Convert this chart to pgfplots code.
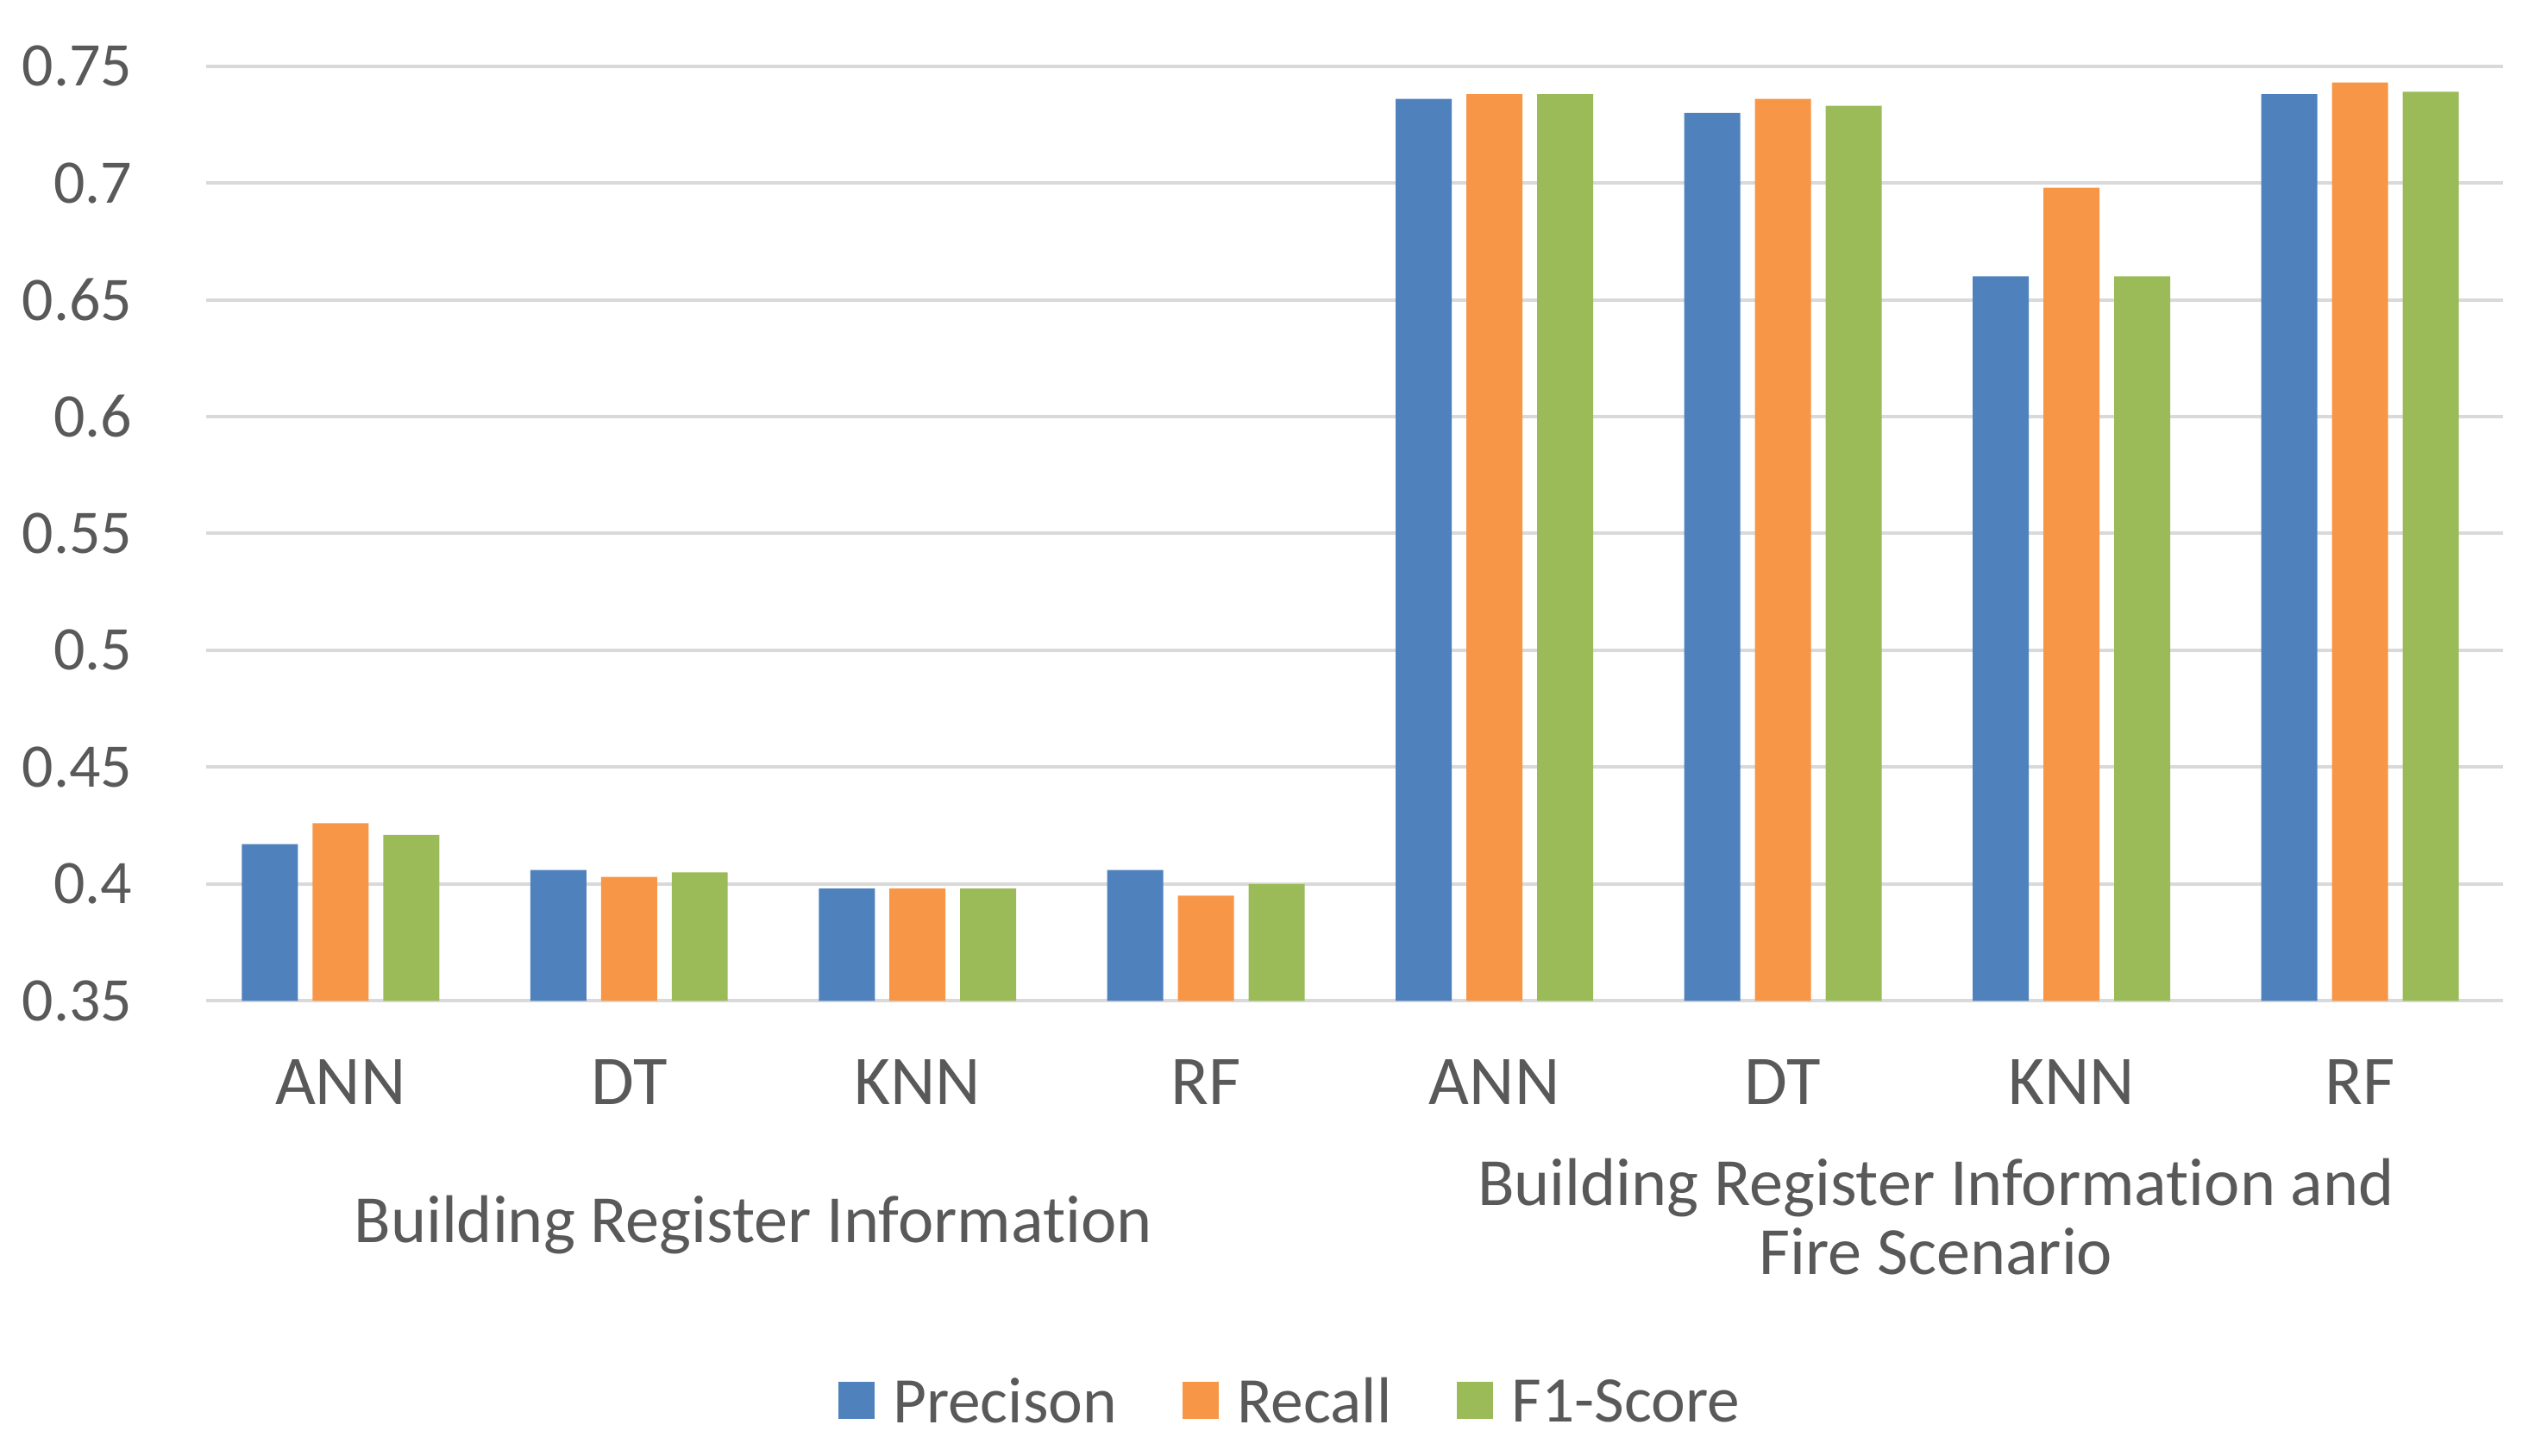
\documentclass[border=0pt]{standalone}
\usepackage{fontspec}
\setmainfont[Ligatures=NoCommon]{Carlito}
\usepackage{pgfplots}
\pgfplotsset{compat=1.18}
\definecolor{cblue}{HTML}{4F81BD}
\definecolor{corange}{HTML}{F79646}
\definecolor{cgreen}{HTML}{9BBB59}
\definecolor{textgray}{HTML}{595959}
\definecolor{gridgray}{HTML}{D9D9D9}
\pgfplotsset{sqlegend/.style={legend image code/.code={\fill[##1] (0pt,-3.4pt) rectangle (6.6pt,3.4pt);}}}
\begin{document}
\begin{tikzpicture}
\begin{axis}[
  at={(0pt,0pt)}, anchor=south west,
  scale only axis, width=416.8pt, height=169.6pt,
  xmin=-0.466, xmax=7.496, ymin=0.35, ymax=0.75,
  axis line style={draw=none},
  major tick length=0pt,
  ytick={0.35,0.4,0.45,0.5,0.55,0.6,0.65,0.7,0.75},
  yticklabels={0.35,0.4,0.45,0.5,0.55,0.6,0.65,0.7,0.75},
  ymajorgrids, grid style={color=gridgray, line width=0.63pt},
  xtick={0,1,2,3,4,5,6,7},
  xticklabels={ANN,DT,KNN,RF,ANN,DT,KNN,RF},
  yticklabel style={anchor=east, inner sep=0pt, xshift=-13.2pt, text=textgray, font=\fontsize{11.25pt}{14pt}\selectfont},
  xticklabel style={anchor=base, inner sep=0pt, yshift=-18.8pt, text=textgray, font=\fontsize{12.68pt}{15pt}\selectfont},
  ybar=2.66pt, bar width=10.17pt,
  clip mode=individual,
  legend columns=3,
  legend style={at={(0.2752,-0.4276)}, anchor=west, draw=none, fill=none, inner sep=0pt, outer sep=0pt,
    font=\fontsize{11.8pt}{14pt}\selectfont, text=textgray,
    nodes={inner sep=0pt, text depth=0pt},
    /tikz/every odd column/.append style={column sep=3.3pt},
    /tikz/every even column/.append style={column sep=11.9pt}},
]
\addplot[fill=cblue, draw=none, sqlegend]
  coordinates {(0,0.417) (1,0.406) (2,0.398) (3,0.406) (4,0.736) (5,0.730) (6,0.660) (7,0.738)};
\addplot[fill=corange, draw=none, sqlegend]
  coordinates {(0,0.426) (1,0.403) (2,0.398) (3,0.395) (4,0.738) (5,0.736) (6,0.698) (7,0.743)};
\addplot[fill=cgreen, draw=none, sqlegend]
  coordinates {(0,0.421) (1,0.405) (2,0.398) (3,0.400) (4,0.738) (5,0.733) (6,0.660) (7,0.739)};
\legend{Precison,Recall,F1-Score}
\node[anchor=base, inner sep=0pt, yshift=-43.8pt, text=textgray, font=\fontsize{12.25pt}{15pt}\selectfont] at (axis cs:1.43,0.35) {Building Register Information};
\node[anchor=base, inner sep=0pt, yshift=-37.1pt, text=textgray, font=\fontsize{12.25pt}{15pt}\selectfont] at (axis cs:5.53,0.35) {Building Register Information and};
\node[anchor=base, inner sep=0pt, yshift=-49.6pt, text=textgray, font=\fontsize{12.25pt}{15pt}\selectfont] at (axis cs:5.53,0.35) {Fire Scenario};
\end{axis}
\pgfresetboundingbox
\path[use as bounding box] (-37.4pt,-82.5pt) rectangle (422.6pt,181.6pt);
\end{tikzpicture}
\end{document}
